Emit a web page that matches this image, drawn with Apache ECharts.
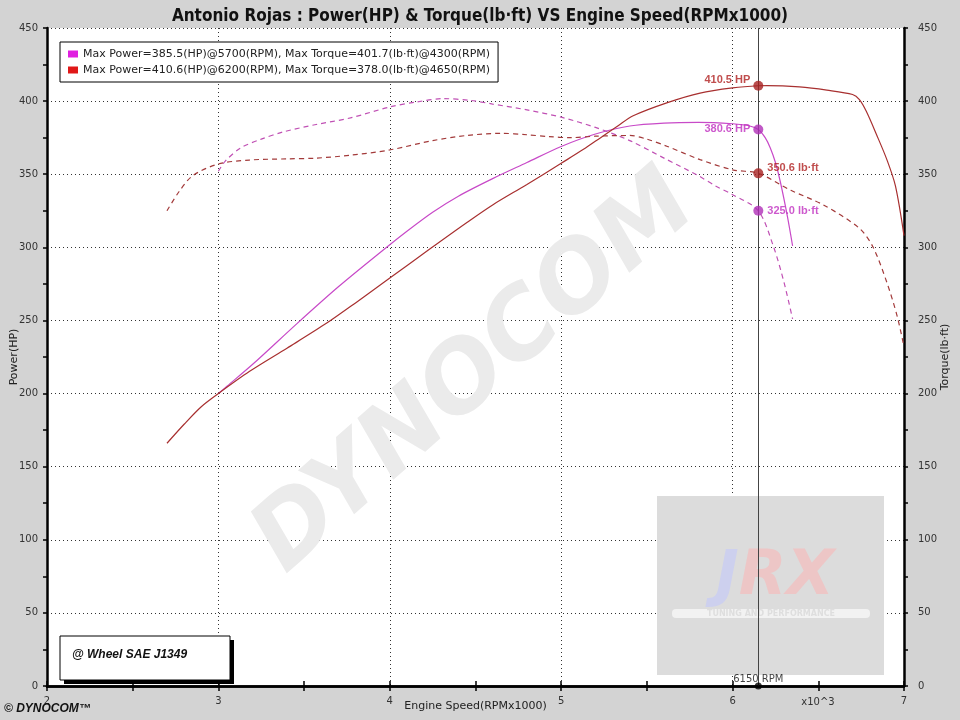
<!DOCTYPE html>
<html>
<head>
<meta charset="utf-8">
<script src="https://cdn.jsdelivr.net/npm/echarts@6/dist/echarts.min.js"></script>
<style>
html,body{margin:0;padding:0;background:#d3d3d3;}
#chart{width:960px;height:720px;}
</style>
</head>
<body>
<div id="chart"></div>
<script>
// ---------- data (RPM x1000) ----------
const run1Name = 'Max Power=385.5(HP)@5700(RPM), Max Torque=401.7(lb·ft)@4300(RPM)';
const run2Name = 'Max Power=410.6(HP)@6200(RPM), Max Torque=378.0(lb·ft)@4650(RPM)';

const run1PowerRpm = [3.00,3.05,3.20,3.46,3.70,3.96,4.10,4.25,4.40,4.60,4.80,5.00,5.20,5.40,5.60,5.80,6.00,6.10,6.15,6.19,6.22,6.25,6.28,6.32,6.35];
const run1Power    = [200,205,220,248,273,298,311,324,335,347,358,369,377.5,383,385,385.5,384.5,383,380.6,375,368,358,344,321,301];

const run2PowerRpm = [2.70,2.80,2.90,3.00,3.18,3.40,3.63,3.80,4.00,4.235,4.45,4.60,4.80,5.00,5.13,5.23,5.33,5.42,5.62,5.81,6.00,6.15,6.20,6.39,6.55,6.70,6.74,6.78,6.84,6.90,6.95,7.00];
const run2Power    = [166,179,191,200,215,231,248,262,279,299,317,329,343,357.5,367,375,383,390,399,405.5,409,410.5,410.6,409.7,407.5,404.5,401,393,377,360,342,308];

const run1TorqueRpm = [3.00,3.04,3.13,3.25,3.38,3.57,3.77,4.00,4.16,4.31,4.47,4.60,4.80,5.00,5.20,5.40,5.60,5.80,5.90,6.00,6.15,6.24,6.30,6.35];
const run1Torque    = [352,359,368,374,379,384,388.5,396,399.5,401.7,400.5,398,394,389,382,373,361,349,342,336,325,300,276,251];

const run2TorqueRpm = [2.70,2.77,2.85,3.00,3.18,3.40,3.57,3.77,4.00,4.25,4.45,4.65,4.80,4.93,5.05,5.20,5.40,5.50,5.62,5.81,6.00,6.15,6.34,6.53,6.74,6.82,6.90,6.96,7.00];
const run2Torque    = [325,338,349,357,359.7,360.5,361,363,366.6,373,376.5,378,377,375.7,375,376,376.5,374,369,360,353,350.6,339,329,313,300,276,253,232];

const cursorRpm = 6.15;
const cursorPower  = [410.5, 380.6];   // run2, run1
const cursorTorque = [350.6, 325.0];   // run2, run1

const xTicks = [2,3,4,5,6,7];
const yTicks = [0,50,100,150,200,250,300,350,400,450];

// ---------- helpers ----------
const zip = (xs, ys) => xs.map((x, i) => [x, ys[i]]);
const FONT = 'DejaVu Sans';

const C1 = '#c84ac8', C1d = '#c050b4', C1m = '#b030b8';
const C2 = '#a83030', C2d = '#a33a3a', C2m = '#a82222';

const chart = echarts.init(document.getElementById('chart'));

const axisLine = {show:true, lineStyle:{color:'#000', width:2.5}};
const grid = {type:[1,3], color:'#333', width:1};
const lbl = {fontFamily:FONT, fontSize:10, color:'#333', showMinLabel:true, showMaxLabel:true, hideOverlap:false};

const option = {
  backgroundColor:'#d3d3d3',
  animation:false,
  title:{
    text:'Antonio Rojas : Power(HP) & Torque(lb·ft) VS Engine Speed(RPMx1000)',
    left:'center', top:3,
    textStyle:{fontFamily:'DejaVu Sans Condensed', fontWeight:'bold', fontSize:17, color:'#111'}
  },
  legend:{
    orient:'vertical', left:60, top:42,
    backgroundColor:'#fff', borderColor:'#000', borderWidth:1,
    padding:[6,8,6,8], itemGap:4, itemWidth:10, itemHeight:7,
    selectedMode:false,
    textStyle:{fontFamily:FONT, fontSize:11, color:'#222', lineHeight:12},
    data:[
      {name:run1Name, icon:'rect', itemStyle:{color:'#e020e0', borderWidth:0}},
      {name:run2Name, icon:'rect', itemStyle:{color:'#e01818', borderWidth:0}}
    ]
  },
  grid:{left:47, right:56, top:28, bottom:34, show:true, backgroundColor:'#fff', borderWidth:0,
        containLabel:false, outerBoundsMode:'none'},
  xAxis:[
    {type:'value', min:xTicks[0], max:xTicks[xTicks.length-1], interval:1, position:'bottom',
     name:'Engine Speed(RPMx1000)', nameLocation:'middle', nameGap:15, nameMoveOverlap:false,
     nameTextStyle:{fontFamily:FONT, fontSize:11, color:'#222'},
     axisLine:axisLine,
     axisTick:{show:true, inside:true, length:5, lineStyle:{color:'#000', width:1.5}},
     minorTick:{show:true, splitNumber:2, length:5, lineStyle:{color:'#000', width:1.5}},
     axisLabel:Object.assign({margin:10}, lbl),
     splitLine:{show:true, lineStyle:grid}},
    {type:'value', min:xTicks[0], max:xTicks[xTicks.length-1], interval:1, position:'top',
     axisLine:axisLine,
     axisTick:{show:true, inside:true, length:5, lineStyle:{color:'#000', width:1.5}},
     minorTick:{show:true, splitNumber:2, length:5, lineStyle:{color:'#000', width:1.5}},
     axisLabel:{show:false}, splitLine:{show:false}}
  ],
  yAxis:[
    {type:'value', min:0, max:450, interval:50, position:'left',
     name:'Power(HP)', nameLocation:'middle', nameGap:27, nameMoveOverlap:false,
     nameTextStyle:{fontFamily:FONT, fontSize:11, color:'#222'},
     axisLine:axisLine,
     axisTick:{show:true, inside:false, length:4, lineStyle:{color:'#000', width:1.5}},
     minorTick:{show:true, splitNumber:2, length:4, lineStyle:{color:'#000', width:1.5}},
     axisLabel:Object.assign({margin:9}, lbl),
     splitLine:{show:true, lineStyle:grid}},
    {type:'value', min:0, max:450, interval:50, position:'right',
     name:'Torque(lb·ft)', nameLocation:'middle', nameGap:36, nameMoveOverlap:false,
     nameTextStyle:{fontFamily:FONT, fontSize:11, color:'#222'},
     axisLine:axisLine,
     axisTick:{show:true, inside:false, length:4, lineStyle:{color:'#000', width:1.5}},
     minorTick:{show:true, splitNumber:2, length:4, lineStyle:{color:'#000', width:1.5}},
     axisLabel:Object.assign({margin:14}, lbl),
     splitLine:{show:false}}
  ],
  graphic:[
    {type:'text', x:476, y:374, rotation:0.72, z:1, silent:true,
     style:{text:'DYNOCOM', align:'center', verticalAlign:'middle',
            font:'italic bold 96px "DejaVu Sans"', fill:'#ebebeb'}},
    {type:'rect', shape:{x:657, y:496, width:227, height:179}, z:1, silent:true,
     style:{fill:'#dcdcdc'}},
    {type:'text', x:775, y:578, z:1, silent:true,
     style:{text:'{j|J}{r|RX}', align:'center', verticalAlign:'middle',
            rich:{j:{font:'italic bold 62px "DejaVu Sans"', fill:'#cdd0ee'},
                  r:{font:'italic bold 62px "DejaVu Sans"', fill:'#edc6c6'}}}},
    {type:'rect', shape:{x:672, y:609, width:198, height:9, r:4}, z:1, silent:true,
     style:{fill:'#f2f2f2'}},
    {type:'text', x:771, y:614, z:1, silent:true,
     style:{text:'TUNING AND PERFORMANCE', align:'center', verticalAlign:'middle',
            font:'bold 8px "DejaVu Sans"', fill:'#dedede'}},
    {type:'rect', shape:{x:64, y:640, width:170, height:44}, z:10, silent:true,
     style:{fill:'#000'}},
    {type:'rect', shape:{x:60, y:636, width:170, height:44}, z:11, silent:true,
     style:{fill:'#fff', stroke:'#000', lineWidth:1}},
    {type:'text', x:72, y:655, z:12, silent:true,
     style:{text:'@ Wheel SAE J1349', verticalAlign:'middle',
            font:'italic bold 12px "Liberation Sans"', fill:'#111'}},
    {type:'text', x:4, y:709, z:12, silent:true,
     style:{text:'© DYNOCOM™', verticalAlign:'middle',
            font:'italic bold 12px "Liberation Sans"', fill:'#111'}},
    {type:'text', x:818, y:702, z:12, silent:true,
     style:{text:'x10^3', align:'center', verticalAlign:'middle',
            font:'10px "DejaVu Sans"', fill:'#333'}}
  ],
  series:[
    {name:run1Name, type:'line', xAxisIndex:0, yAxisIndex:0, data:zip(run1PowerRpm, run1Power),
     smooth:0.3, showSymbol:false, lineStyle:{color:C1, width:1.2}, itemStyle:{color:C1}, z:3,
     markLine:{silent:true, symbol:'none', animation:false,
       lineStyle:{color:'#444', width:1, type:'solid'}, label:{show:false},
       data:[{xAxis:cursorRpm}]}},
    {name:run1Name, type:'line', xAxisIndex:0, yAxisIndex:1, data:zip(run1TorqueRpm, run1Torque),
     smooth:0.3, showSymbol:false, lineStyle:{color:C1d, width:1.2, type:[5,4]}, itemStyle:{color:C1d}, z:3},
    {name:run2Name, type:'line', xAxisIndex:0, yAxisIndex:0, data:zip(run2PowerRpm, run2Power),
     smooth:0.3, showSymbol:false, lineStyle:{color:C2, width:1.2}, itemStyle:{color:C2}, z:3},
    {name:run2Name, type:'line', xAxisIndex:0, yAxisIndex:1, data:zip(run2TorqueRpm, run2Torque),
     smooth:0.3, showSymbol:false, lineStyle:{color:C2d, width:1.2, type:[5,4]}, itemStyle:{color:C2d}, z:3},
    {type:'scatter', xAxisIndex:0, yAxisIndex:0, symbolSize:10, z:5, clip:false,
     data:[
       {value:[cursorRpm, cursorPower[0]], itemStyle:{color:C2m},
        label:{show:true, position:'left', distance:3, offset:[0,-6], color:'#b02020',
               formatter:p=>p.value[1].toFixed(1)+' HP'}},
       {value:[cursorRpm, cursorPower[1]], itemStyle:{color:C1m},
        label:{show:true, position:'left', distance:3, offset:[0,-1], color:'#c030c0',
               formatter:p=>p.value[1].toFixed(1)+' HP'}}
     ],
     label:{fontFamily:'Liberation Sans', fontWeight:'bold', fontSize:11}},
    {type:'scatter', xAxisIndex:0, yAxisIndex:1, symbolSize:10, z:5, clip:false,
     data:[
       {value:[cursorRpm, cursorTorque[0]], itemStyle:{color:C2m},
        label:{show:true, position:'right', distance:4, offset:[0,-5], color:'#b02020',
               formatter:p=>p.value[1].toFixed(1)+' lb·ft'}},
       {value:[cursorRpm, cursorTorque[1]], itemStyle:{color:C1m},
        label:{show:true, position:'right', distance:4, offset:[0,0], color:'#c030c0',
               formatter:p=>p.value[1].toFixed(1)+' lb·ft'}}
     ],
     label:{fontFamily:'Liberation Sans', fontWeight:'bold', fontSize:11}},
    {type:'scatter', xAxisIndex:0, yAxisIndex:0, symbolSize:7, z:6, clip:false,
     data:[[cursorRpm, 0]], itemStyle:{color:'#000'},
     label:{show:true, position:'top', distance:0, offset:[0,2], color:'#111', fontFamily:FONT, fontSize:10,
            formatter:p=>Math.round(p.value[0]*1000)+' RPM'}}
  ]
};
chart.setOption(option);
</script>
</body>
</html>
